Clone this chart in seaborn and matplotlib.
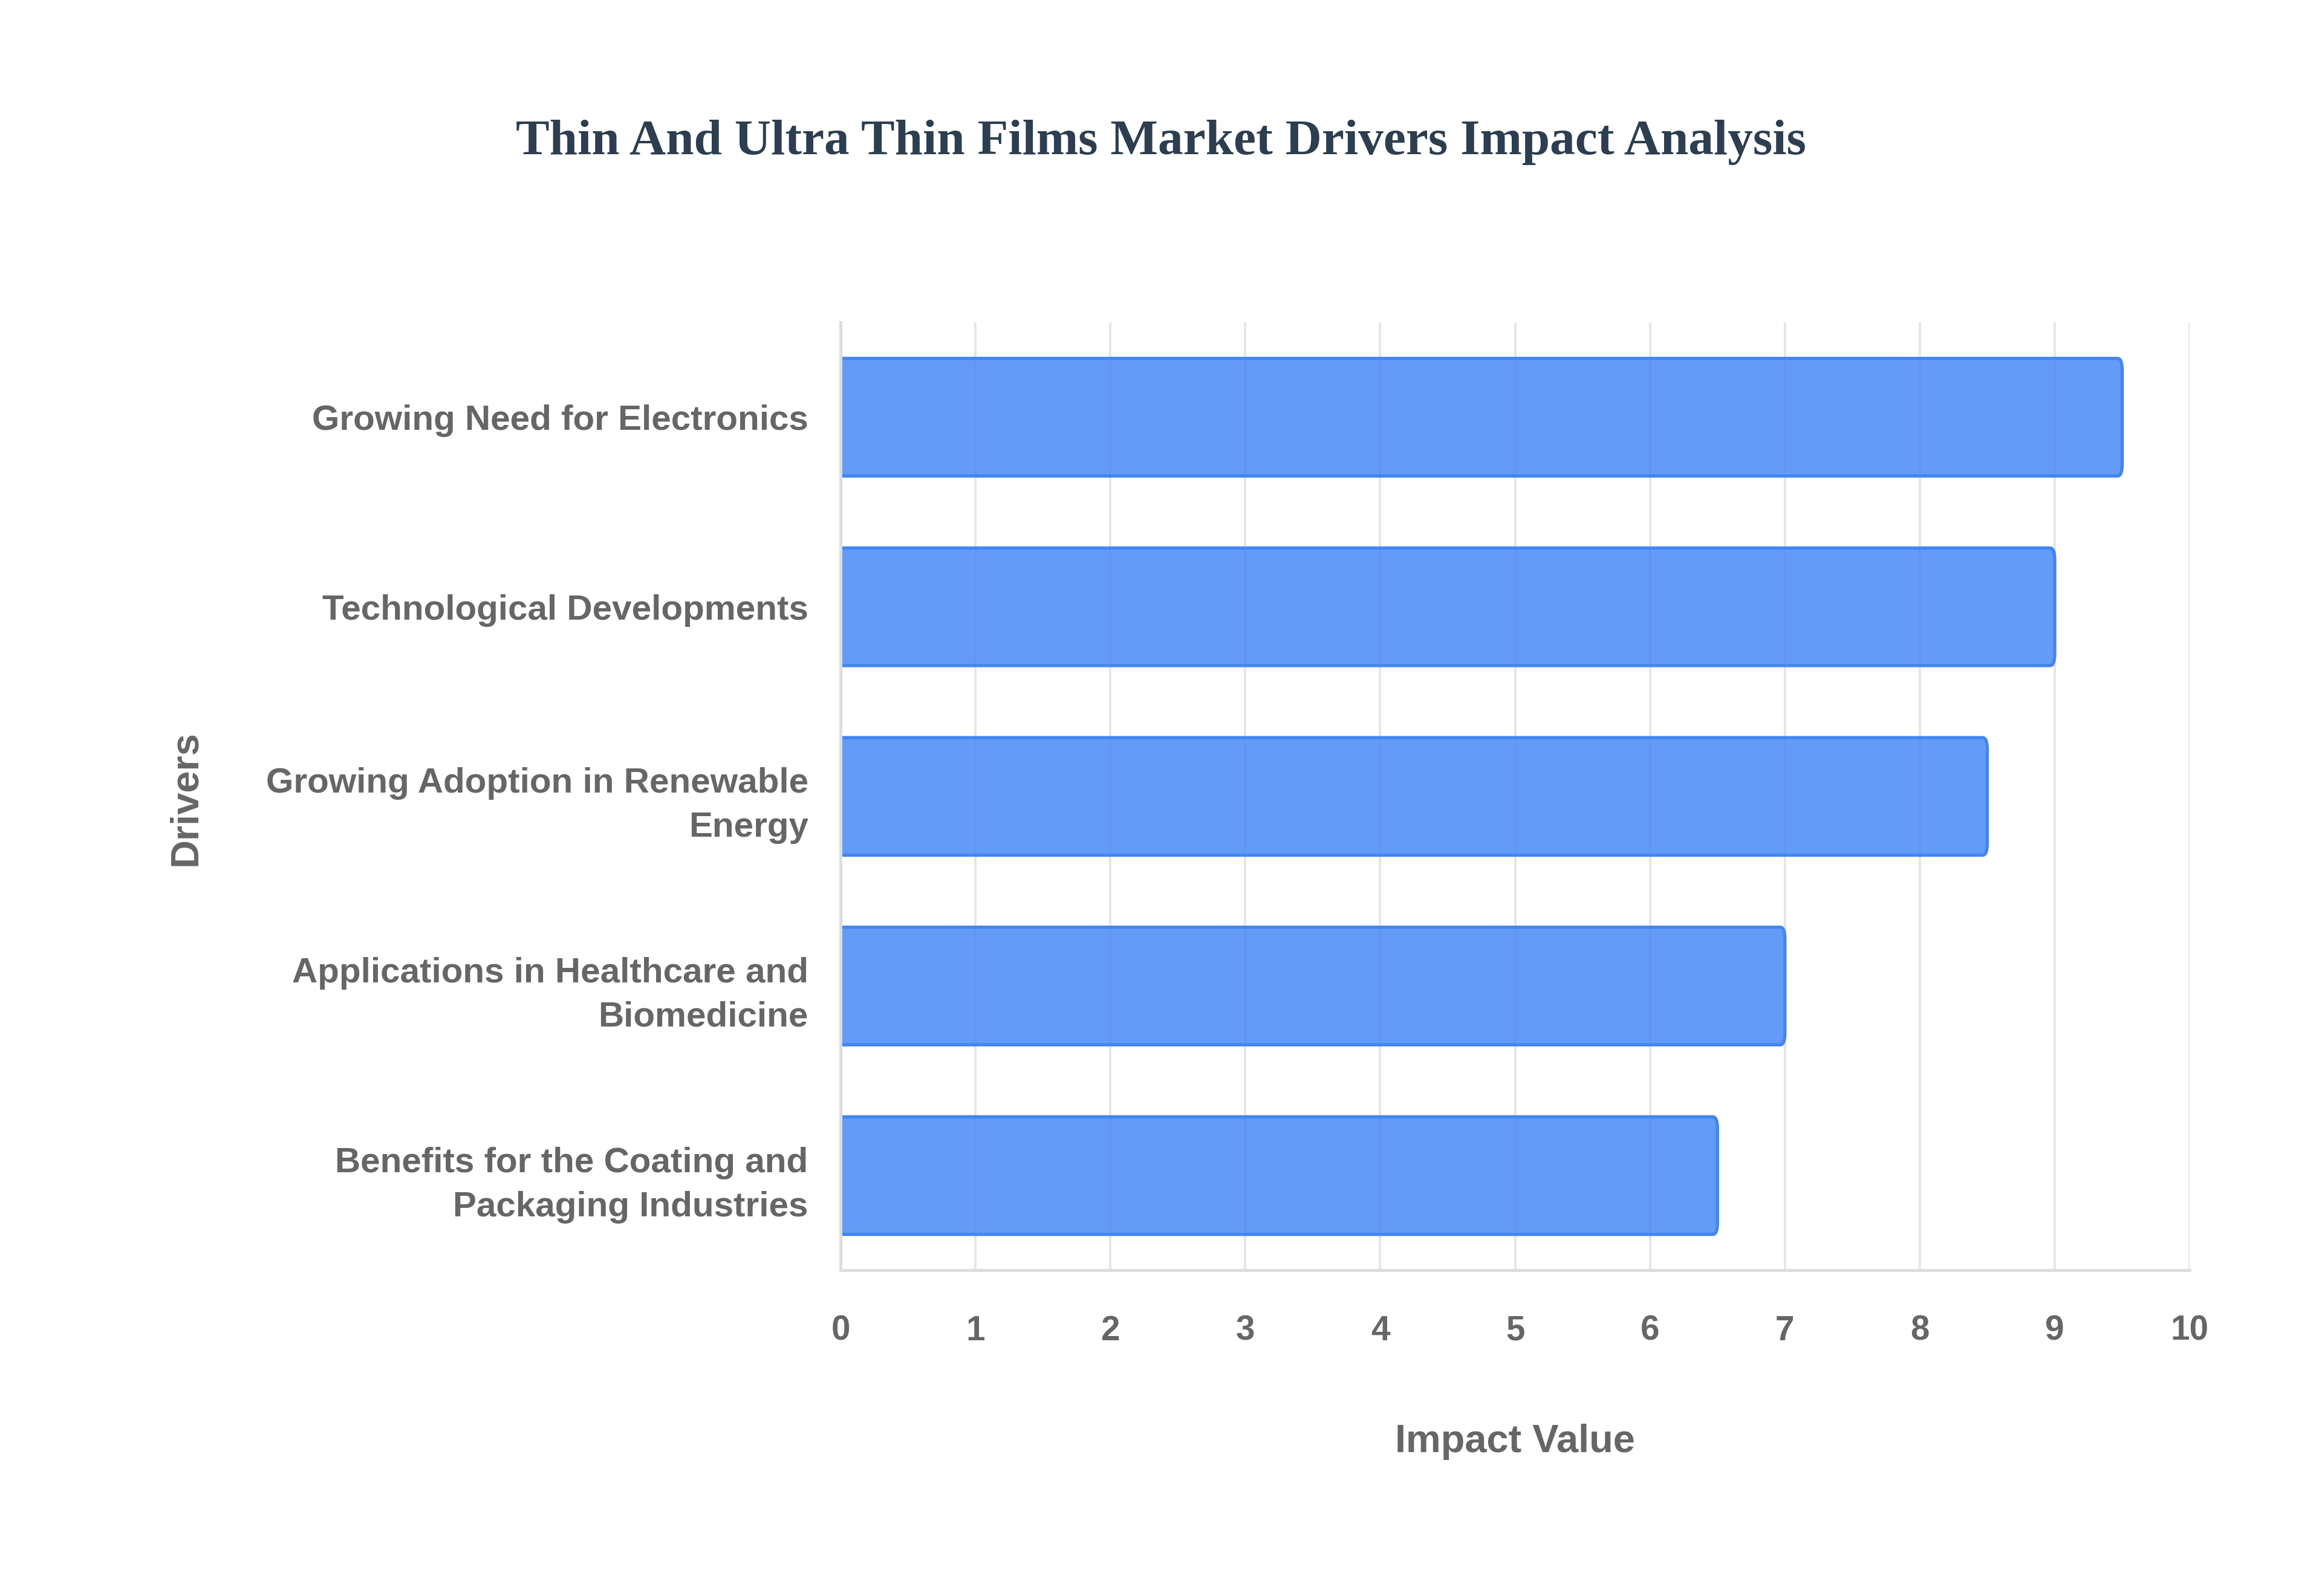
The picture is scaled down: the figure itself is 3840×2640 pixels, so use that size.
import matplotlib
matplotlib.use("Agg")
import matplotlib.pyplot as plt
from matplotlib.patches import FancyBboxPatch
import seaborn as sns
import pandas as pd

drivers = [
    "Growing Need for Electronics",
    "Technological Developments",
    "Growing Adoption in Renewable\nEnergy",
    "Applications in Healthcare and\nBiomedicine",
    "Benefits for the Coating and\nPackaging Industries",
]
impact = [9.5, 9.0, 8.5, 7.0, 6.5]
x_ticks = list(range(0, 11))

sns.set_theme(style="white")
plt.rcParams["font.family"] = ["Liberation Sans", "DejaVu Sans"]

df = pd.DataFrame({"Driver": drivers, "Impact": impact})

fig = plt.figure(figsize=(16, 11), dpi=240)
ax = fig.add_axes([0.362, 0.204, 0.581, 0.594])

sns.barplot(
    data=df, x="Impact", y="Driver", ax=ax,
    color="#4285f4", saturation=1, alpha=0.82, width=0.62,
    edgecolor="#4285f4", linewidth=1.6, zorder=2,
)

# round the right-hand end of each bar (left end hidden past x=0)
for p in list(ax.patches):
    x0, y0, w, h = p.get_x(), p.get_y(), p.get_width(), p.get_height()
    rb = FancyBboxPatch((x0 - 0.2, y0), w + 0.2, h,
                        boxstyle="round,pad=0,rounding_size=0.035",
                        mutation_aspect=1.75, facecolor=p.get_facecolor(),
                        edgecolor="#4285f4", linewidth=1.6, zorder=2)
    p.remove()
    ax.add_patch(rb)

ax.set_xlim(0, 10)
ax.set_xticks(x_ticks)
ax.grid(axis="x", color="#e6e6e6", linewidth=1.2, zorder=0)
ax.set_axisbelow(True)

for side in ["top", "right"]:
    ax.spines[side].set_visible(False)
for side in ["left", "bottom"]:
    ax.spines[side].set_color("#dddddd")
    ax.spines[side].set_linewidth(1.5)
ax.spines["left"].set_zorder(3)

ax.tick_params(axis="x", length=8, color="#e0e0e0", width=1.2, pad=14,
               labelsize=17, labelcolor="#666666")
ax.tick_params(axis="y", length=0, pad=16, labelsize=17.5, labelcolor="#666666")
for lbl in ax.get_xticklabels() + ax.get_yticklabels():
    lbl.set_fontweight("bold")
for lbl in ax.get_yticklabels():
    lbl.set_linespacing(1.45)

ax.set_xlabel("Impact Value", fontsize=19.5, fontweight="bold", color="#666666", labelpad=38)
ax.set_ylabel("")
fig.text(0.08, 0.5, "Drivers", rotation=90, ha="center", va="center",
         fontsize=19.5, fontweight="bold", color="#666666")

fig.suptitle("Thin And Ultra Thin Films Market Drivers Impact Analysis",
             x=0.5, y=0.925, fontsize=25, fontweight="bold", color="#2c3e50",
             family=["Liberation Serif", "DejaVu Serif"])

fig.savefig("out.png", dpi=240, facecolor="white")
